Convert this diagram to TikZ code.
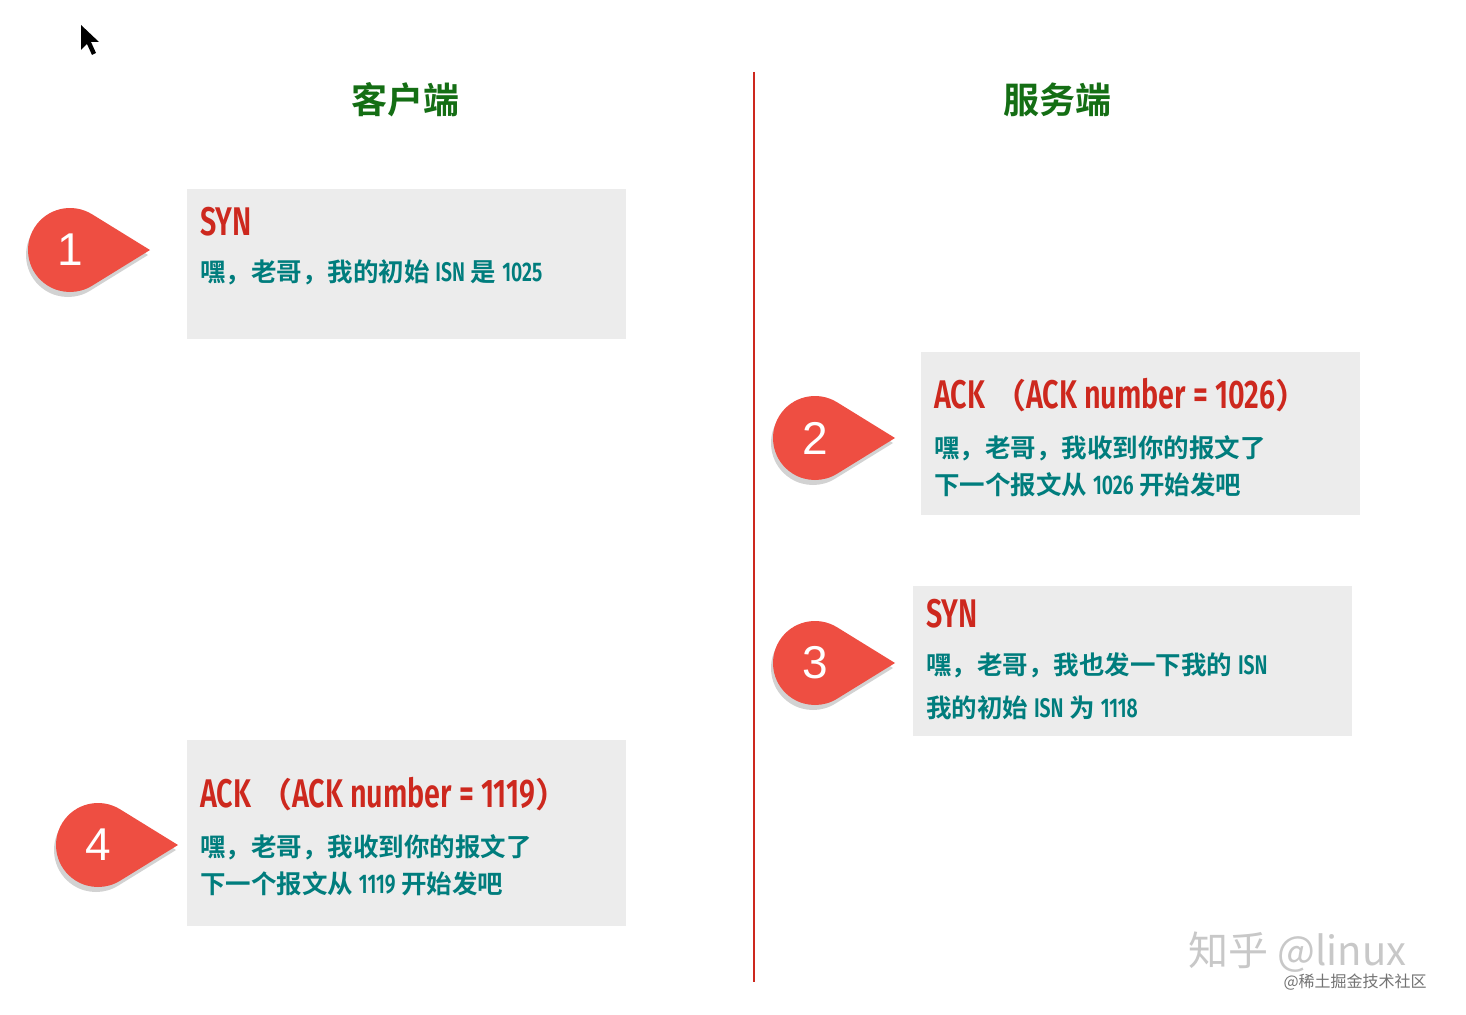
\documentclass[tikz,border=0pt]{standalone}
\usepackage{fontspec}
\setmainfont{Fira Sans}
\newfontfamily\cjk{Noto Sans CJK SC}[BoldFont={* Bold}]
\newfontfamily\cond{Fira Sans}[FakeStretch=0.72,BoldFont={Fira Sans SemiBold}]
\newfontfamily\mk{Liberation Sans}
\definecolor{tgreen}{RGB}{20,110,20}
\definecolor{tred}{RGB}{205,40,30}
\definecolor{tteal}{RGB}{0,125,125}
\definecolor{boxg}{RGB}{236,236,236}
\definecolor{mred}{RGB}{238,78,66}
\definecolor{wm}{RGB}{200,200,200}
\newcommand{\lp}{{\cjk\fontsize{34}{40}\selectfont （}}
\newcommand{\rp}{{\cjk\fontsize{34}{40}\selectfont ）}}
\newcommand{\cn}[1]{{\cond\fontsize{27}{28}\selectfont #1}}
\begin{document}
\begin{tikzpicture}[x=1pt,y=-1pt,
  title/.style={font=\cjk\bfseries\fontsize{36}{40}\selectfont,text=tgreen},
  head/.style={anchor=base west,inner sep=0,font=\cond\bfseries\fontsize{40}{44}\selectfont,text=tred},
  body/.style={anchor=base west,inner sep=0,font=\cjk\bfseries\fontsize{25.5}{26}\selectfont,text=tteal},
  msgbox/.style={fill=boxg,draw=none}]
\useasboundingbox (0,0) rectangle (1466,1014);
\fill[white] (0,0) rectangle (1466,1014);
% cursor
\fill[black] (81,25) -- (81,50) -- (87,44) -- (92,55) -- (96,53) -- (91,42) -- (99,42) -- cycle;
\node[title] (tc) at (405,100) {客户端};
\node[title] (ts) at (1057,100) {服务端};
\draw[tred,line width=2.5pt] (754,72) -- (754,982);
% boxes
\fill[msgbox] (187,189) rectangle (626,339);
\fill[msgbox] (921,352) rectangle (1360,515);
\fill[msgbox] (913,586) rectangle (1352,736);
\fill[msgbox] (187,740) rectangle (626,926);
% texts
\node[head] (h1) at (200,235) {SYN};
\node[body] (b1) at (200,281) {嘿，老哥，我的初始 \cn{ISN} 是 \cn{1025}};
\node[head] (h2) at (934,408) {ACK \lp ACK number = 1026\rp};
\node[body] (b2a) at (934,457) {嘿，老哥，我收到你的报文了};
\node[body] (b2b) at (934,494) {下一个报文从 \cn{1026} 开始发吧};
\node[head] (h3) at (926,627) {SYN};
\node[body] (b3a) at (926,674) {嘿，老哥，我也发一下我的 \cn{ISN}};
\node[body] (b3b) at (926,717) {我的初始 \cn{ISN} 为 \cn{1118}};
\node[head] (h4) at (200,807) {ACK \lp ACK number = 1119\rp};
\node[body] (b4a) at (200,856) {嘿，老哥，我收到你的报文了};
\node[body] (b4b) at (200,893) {下一个报文从 \cn{1119} 开始发吧};
% markers
\foreach \cx/\cy/\n in {70/250/1, 815/438/2, 815/663/3, 98/845/4}{
  \fill[black!35,opacity=0.5] (\cx-2,\cy+5) +(-58:42) arc[start angle=-58,end angle=-302,radius=42] -- (\cx+78,\cy+5) -- cycle;
  \fill[mred] (\cx,\cy) +(-58:42) arc[start angle=-58,end angle=-302,radius=42] -- (\cx+80,\cy) -- cycle;
  \node[text=white,font=\mk\fontsize{46}{46}\selectfont] (m\n) at (\cx,\cy) {\n};
}
% watermark
\node[text=wm,font=\cjk\fontsize{40}{40}\selectfont,anchor=west] (wm1) at (1185,952) {知乎 @linux};
\node[text=black!55,font=\cjk\fontsize{16}{16}\selectfont,anchor=west] (wm2) at (1280,982) {@稀土掘金技术社区};
\end{tikzpicture}
\end{document}
